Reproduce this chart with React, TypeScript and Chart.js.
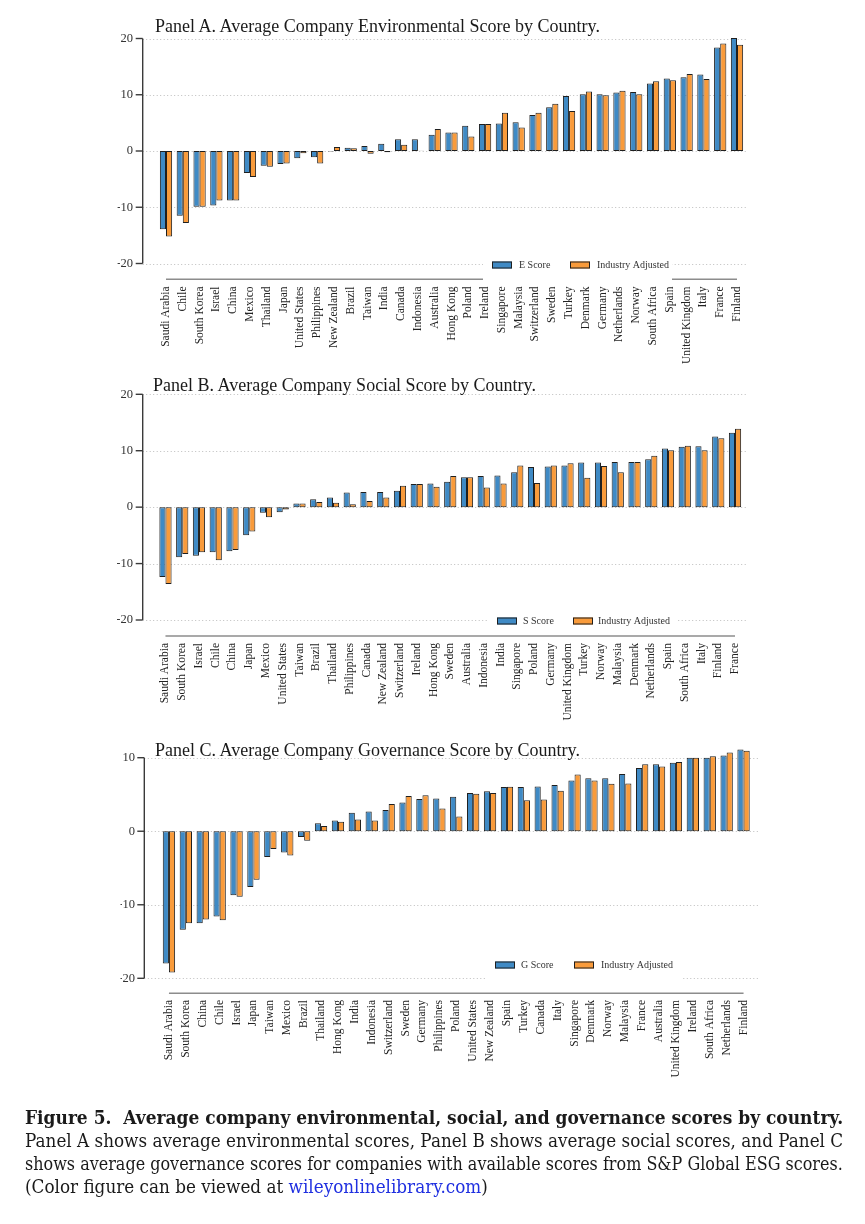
import React, { useEffect, useLayoutEffect, useRef } from 'react';
import { Chart, registerables } from 'chart.js';

Chart.register(...registerables);

const FONT = "'Liberation Serif', 'Times New Roman', serif";
const CAP_FONT = "'DejaVu Serif', 'Liberation Serif', serif";
const BLUE = '#3f8ac5';
const ORANGE = '#f99b3b';
const EDGE = '#1f1f1f';

// ---------- Panel A: Environmental ----------
const countriesE = [
  'Saudi Arabia', 'Chile', 'South Korea', 'Israel', 'China', 'Mexico', 'Thailand', 'Japan',
  'United States', 'Philippines', 'New Zealand', 'Brazil', 'Taiwan', 'India', 'Canada',
  'Indonesia', 'Australia', 'Hong Kong', 'Poland', 'Ireland', 'Singapore', 'Malaysia',
  'Switzerland', 'Sweden', 'Turkey', 'Denmark', 'Germany', 'Netherlands', 'Norway',
  'South Africa', 'Spain', 'United Kingdom', 'Italy', 'France', 'Finland',
];
const eScore = [
  -13.9, -11.5, -9.9, -9.7, -8.8, -3.9, -2.6, -2.3, -1.3, -1.1, -0.1, 0.6, 0.9, 1.3, 2.1,
  2.1, 2.9, 3.3, 4.5, 4.8, 4.9, 5.1, 6.4, 7.8, 9.8, 10.1, 10.1, 10.4, 10.5, 12.0, 12.9,
  13.1, 13.6, 18.4, 20.1,
];
const eAdjusted = [
  -15.2, -12.8, -9.9, -8.8, -8.8, -4.6, -2.8, -2.2, -0.4, -2.2, 0.7, 0.5, -0.5, -0.2, 1.1,
  0.05, 3.9, 3.3, 2.6, 4.8, 6.8, 4.2, 6.8, 8.4, 7.1, 10.6, 9.9, 10.7, 10.1, 12.4, 12.6,
  13.7, 12.8, 19.1, 18.9,
];

// ---------- Panel B: Social ----------
const countriesS = [
  'Saudi Arabia', 'South Korea', 'Israel', 'Chile', 'China', 'Japan', 'Mexico',
  'United States', 'Taiwan', 'Brazil', 'Thailand', 'Philippines', 'Canada', 'New Zealand',
  'Switzerland', 'Ireland', 'Hong Kong', 'Sweden', 'Australia', 'Indonesia', 'India',
  'Singapore', 'Poland', 'Germany', 'United Kingdom', 'Turkey', 'Norway', 'Malaysia',
  'Denmark', 'Netherlands', 'Spain', 'South Africa', 'Italy', 'Finland', 'France',
];
const sScore = [
  -12.4, -8.9, -8.6, -8.0, -7.8, -5.0, -1.0, -0.9, 0.65, 1.4, 1.7, 2.6, 2.7, 2.7, 2.9,
  4.1, 4.2, 4.5, 5.3, 5.5, 5.6, 6.2, 7.1, 7.2, 7.4, 7.9, 7.9, 8.0, 8.0, 8.5, 10.4, 10.7,
  10.8, 12.5, 13.2,
];
const sAdjusted = [
  -13.6, -8.3, -8.0, -9.4, -7.6, -4.3, -1.8, -0.4, 0.65, 0.9, 0.8, 0.5, 1.1, 1.7, 3.8,
  4.1, 3.6, 5.5, 5.3, 3.5, 4.2, 7.4, 4.3, 7.4, 7.8, 5.2, 7.3, 6.2, 8.0, 9.1, 10.1, 10.9,
  10.1, 12.2, 13.9,
];

// ---------- Panel C: Governance ----------
const countriesG = [
  'Saudi Arabia', 'South Korea', 'China', 'Chile', 'Israel', 'Japan', 'Taiwan', 'Mexico',
  'Brazil', 'Thailand', 'Hong Kong', 'India', 'Indonesia', 'Switzerland', 'Sweden',
  'Germany', 'Philippines', 'Poland', 'United States', 'New Zealand', 'Spain', 'Turkey',
  'Canada', 'Italy', 'Singapore', 'Denmark', 'Norway', 'Malaysia', 'France', 'Australia',
  'United Kingdom', 'Ireland', 'South Africa', 'Netherlands', 'Finland',
];
const gScore = [
  -18.0, -13.4, -12.5, -11.6, -8.7, -7.6, -3.5, -2.9, -0.8, 1.1, 1.45, 2.5, 2.7, 2.9, 3.9,
  4.4, 4.45, 4.7, 5.2, 5.45, 6.0, 6.0, 6.1, 6.3, 6.9, 7.2, 7.2, 7.8, 8.6, 9.1, 9.3, 10.0,
  10.0, 10.3, 11.1,
];
const gAdjusted = [
  -19.2, -12.5, -12.0, -12.1, -8.9, -6.6, -2.4, -3.3, -1.3, 0.7, 1.3, 1.6, 1.45, 3.7, 4.8,
  4.9, 3.1, 2.0, 5.1, 5.2, 6.05, 4.2, 4.3, 5.5, 7.7, 6.9, 6.45, 6.5, 9.1, 8.8, 9.4, 10.0,
  10.2, 10.7, 10.95,
];

const yTicksAB = [-20, -10, 0, 10, 20];
const yTicksC = [-20, -10, 0, 10];

const titleA = 'Panel A. Average Company Environmental Score by Country.';
const titleB = 'Panel B. Average Company Social Score by Country.';
const titleC = 'Panel C. Average Company Governance Score by Country.';
const adjName = 'Industry Adjusted';

interface LegendCfg {
  cy: number;
  h: number;
  boxL: number;
  boxR: number;
  blueX: number;
  blueTx: number;
  orangeX: number;
  orangeTx: number;
}

interface PanelCfg {
  title: string;
  titleX: number;
  titleBaseline: number;
  top: number;
  height: number;
  labels: string[];
  score: number[];
  adj: number[];
  scoreName: string;
  yTicks: number[];
  yMax: number;
  tickTopPx: number;
  tickBotPx: number;
  areaLeft: number;
  areaRight: number;
  axisX: number;
  gridRight: number;
  tickLabelRight: number;
  xAxisY: number;
  labelTop: number;
  legend: LegendCfg;
}

const PAGE_W = 865;
const Y_W = 40;

const panels: PanelCfg[] = [
  {
    title: titleA, titleX: 155, titleBaseline: 31.5,
    top: 0, height: 376,
    labels: countriesE, score: eScore, adj: eAdjusted, scoreName: 'E Score',
    yTicks: yTicksAB, yMax: 20.5, tickTopPx: 38.5, tickBotPx: 263.5,
    areaLeft: 157.6, areaRight: 745.4, axisX: 142.7, gridRight: 746, tickLabelRight: 133,
    xAxisY: 279.3, labelTop: 286.5,
    legend: { cy: 265, h: 31, boxL: 483, boxR: 672, blueX: 492, blueTx: 519, orangeX: 570, orangeTx: 597 },
  },
  {
    title: titleB, titleX: 153, titleBaseline: 390.7,
    top: 360, height: 376,
    labels: countriesS, score: sScore, adj: sAdjusted, scoreName: 'S Score',
    yTicks: yTicksAB, yMax: 20, tickTopPx: 394.3, tickBotPx: 620,
    areaLeft: 157.1, areaRight: 743.4, axisX: 142.7, gridRight: 748, tickLabelRight: 133,
    xAxisY: 636, labelTop: 643,
    legend: { cy: 621, h: 28, boxL: 488, boxR: 676, blueX: 497, blueTx: 523, orangeX: 573, orangeTx: 598 },
  },
  {
    title: titleC, titleX: 155, titleBaseline: 755.7,
    top: 720, height: 385,
    labels: countriesG, score: gScore, adj: gAdjusted, scoreName: 'G Score',
    yTicks: yTicksC, yMax: 11.6, tickTopPx: 757.7, tickBotPx: 978.3,
    areaLeft: 160.5, areaRight: 752, axisX: 144.3, gridRight: 758, tickLabelRight: 135,
    xAxisY: 993.3, labelTop: 1000,
    legend: { cy: 965, h: 31, boxL: 485, boxR: 683, blueX: 495, blueTx: 521, orangeX: 574, orangeTx: 601 },
  },
];

function Panel({ cfg }: { cfg: PanelCfg }) {
  const canvasRef = useRef<HTMLCanvasElement | null>(null);

  useEffect(() => {
    const canvas = canvasRef.current;
    if (!canvas) return;
    const minTick = Math.min(...cfg.yTicks);
    const maxTick = Math.max(...cfg.yTicks);
    const ppu = (cfg.tickBotPx - cfg.tickTopPx) / (maxTick - minTick);
    const areaTop = cfg.tickTopPx - (cfg.yMax - maxTick) * ppu - cfg.top;
    const areaBottom = cfg.tickBotPx - cfg.top;
    const xAxisH = cfg.height - areaBottom;

    const decor = {
      id: 'decor',
      beforeDatasetsDraw(chart: any) {
        const ctx = chart.ctx as CanvasRenderingContext2D;
        const ys = chart.scales.y;
        const xs = chart.scales.x;
        ctx.save();
        // dotted grid lines
        ctx.strokeStyle = '#bdbdbd';
        ctx.lineWidth = 1;
        ctx.setLineDash([1, 2.5]);
        for (const v of cfg.yTicks) {
          const py = Math.round(ys.getPixelForValue(v)) + 0.5;
          ctx.beginPath();
          ctx.moveTo(cfg.axisX, py);
          ctx.lineTo(cfg.gridRight, py);
          ctx.stroke();
        }
        ctx.setLineDash([]);
        // y axis line and ticks
        ctx.strokeStyle = '#3a3a3a';
        ctx.lineWidth = 1.4;
        ctx.beginPath();
        ctx.moveTo(cfg.axisX, ys.getPixelForValue(maxTick));
        ctx.lineTo(cfg.axisX, ys.getPixelForValue(minTick));
        ctx.stroke();
        for (const v of cfg.yTicks) {
          const py = ys.getPixelForValue(v);
          ctx.beginPath();
          ctx.moveTo(cfg.axisX - 7, py);
          ctx.lineTo(cfg.axisX, py);
          ctx.stroke();
        }
        // x axis line (between first and last category)
        ctx.strokeStyle = '#8c8c8c';
        ctx.lineWidth = 1.6;
        const ly = cfg.xAxisY - cfg.top;
        ctx.beginPath();
        ctx.moveTo(xs.getPixelForValue(0), ly);
        ctx.lineTo(xs.getPixelForValue(cfg.labels.length - 1), ly);
        ctx.stroke();
        ctx.restore();
      },
      afterDatasetsDraw(chart: any) {
        const ctx = chart.ctx as CanvasRenderingContext2D;
        const L = cfg.legend;
        const cy = L.cy - cfg.top;
        ctx.save();
        ctx.fillStyle = '#ffffff';
        ctx.fillRect(L.boxL, cy - L.h / 2, L.boxR - L.boxL, L.h);
        const bw = 20;
        const bh = 7;
        const items = [
          { x: L.blueX, tx: L.blueTx, color: BLUE, name: cfg.scoreName },
          { x: L.orangeX, tx: L.orangeTx, color: ORANGE, name: adjName },
        ];
        ctx.font = `10px ${FONT}`;
        ctx.textBaseline = 'middle';
        ctx.textAlign = 'left';
        for (const it of items) {
          ctx.fillStyle = it.color;
          ctx.fillRect(it.x, cy - bh / 2, bw, bh);
          ctx.strokeStyle = EDGE;
          ctx.lineWidth = 1;
          ctx.strokeRect(it.x + 0.5, cy - bh / 2 + 0.5, bw - 1, bh - 1);
          ctx.fillStyle = '#333333';
          ctx.fillText(it.name, it.tx, cy + 0.5);
        }
        ctx.restore();
      },
    };

    const chart = new Chart(canvas, {
      type: 'bar',
      data: {
        labels: cfg.labels,
        datasets: [
          {
            label: cfg.scoreName,
            data: cfg.score,
            backgroundColor: BLUE,
            borderColor: EDGE,
            borderWidth: 1,
            borderSkipped: false,
            categoryPercentage: 0.73,
            barPercentage: 1,
          },
          {
            label: adjName,
            data: cfg.adj,
            backgroundColor: ORANGE,
            borderColor: EDGE,
            borderWidth: 1,
            borderSkipped: false,
            categoryPercentage: 0.73,
            barPercentage: 1,
          },
        ],
      },
      options: {
        responsive: true,
        maintainAspectRatio: false,
        animation: false,
        devicePixelRatio: 1,
        layout: {
          padding: {
            top: areaTop,
            left: cfg.areaLeft - Y_W,
            right: PAGE_W - cfg.areaRight,
            bottom: 0,
          },
        },
        plugins: {
          legend: { display: false },
          tooltip: { enabled: false },
          title: { display: false },
        },
        scales: {
          x: {
            type: 'category',
            offset: true,
            grid: { display: false, drawTicks: false },
            border: { display: false },
            ticks: {
              autoSkip: false,
              maxRotation: 90,
              minRotation: 90,
              padding: cfg.labelTop - cfg.tickBotPx,
              color: '#222222',
              font: { family: FONT, size: 11.5 },
            },
            afterFit: (s: any) => {
              s.height = xAxisH;
              s.paddingLeft = 0;
              s.paddingRight = 0;
            },
          },
          y: {
            type: 'linear',
            min: minTick,
            max: cfg.yMax,
            grid: { display: false, drawTicks: false },
            border: { display: false },
            ticks: {
              padding: cfg.areaLeft - cfg.tickLabelRight,
              color: '#333333',
              font: { family: FONT, size: 12.5 },
            },
            afterBuildTicks: (s: any) => {
              s.ticks = cfg.yTicks.map((v) => ({ value: v }));
            },
            afterFit: (s: any) => {
              s.width = Y_W;
              s.paddingTop = 0;
              s.paddingBottom = 0;
            },
          },
        },
      },
      plugins: [decor],
    } as any);

    return () => {
      chart.destroy();
    };
  }, [cfg]);

  return (
    <>
      <div
        style={{
          position: 'absolute',
          left: 0,
          top: cfg.top,
          width: PAGE_W,
          height: cfg.height,
        }}
      >
        <canvas ref={canvasRef} />
      </div>
      <div
        style={{
          position: 'absolute',
          left: cfg.titleX,
          top: cfg.titleBaseline - 16,
          fontFamily: FONT,
          fontSize: 18,
          lineHeight: '20px',
          color: '#1a1a1a',
          whiteSpace: 'nowrap',
        }}
      >
        {cfg.title}
      </div>
    </>
  );
}

const captionBold = 'Figure 5.\u00a0 Average company environmental, social, and governance scores by country.';
const captionLine2 = 'Panel A shows average environmental scores, Panel B shows average social scores, and Panel C';
const captionLine3 = 'shows average governance scores for companies with available scores from S&P Global ESG scores.';
const captionLine4a = '(Color figure can be viewed at ';
const captionLink = 'wileyonlinelibrary.com';
const captionLine4b = ')';

function Caption() {
  const refs = useRef<(HTMLSpanElement | null)[]>([]);
  const target = 818;

  useLayoutEffect(() => {
    const els = refs.current;
    const widths = els.map((e) => (e ? e.offsetWidth : 0));
    const scales = widths.map((w) => (w > 0 ? target / w : 1));
    els.forEach((e, i) => {
      if (!e) return;
      const s = i === 3 ? scales[1] : scales[i];
      e.style.transform = `scaleX(${s})`;
    });
  }, []);

  const lineStyle: React.CSSProperties = {
    display: 'inline-block',
    whiteSpace: 'nowrap',
    transformOrigin: '0 0',
  };

  return (
    <div
      style={{
        position: 'absolute',
        left: 25,
        top: 1106,
        width: 840,
        fontFamily: CAP_FONT,
        fontSize: 18,
        lineHeight: '23px',
        color: '#1a1a1a',
      }}
    >
      <div style={{ height: 23 }}>
        <span ref={(el) => { refs.current[0] = el; }} style={{ ...lineStyle, fontWeight: 'bold' }}>
          {captionBold}
        </span>
      </div>
      <div style={{ height: 23 }}>
        <span ref={(el) => { refs.current[1] = el; }} style={lineStyle}>
          {captionLine2}
        </span>
      </div>
      <div style={{ height: 23 }}>
        <span ref={(el) => { refs.current[2] = el; }} style={lineStyle}>
          {captionLine3}
        </span>
      </div>
      <div style={{ height: 23 }}>
        <span ref={(el) => { refs.current[3] = el; }} style={lineStyle}>
          {captionLine4a}
          <span style={{ color: '#1f2fe0' }}>{captionLink}</span>
          {captionLine4b}
        </span>
      </div>
    </div>
  );
}

export default function App() {
  return (
    <div
      style={{
        position: 'absolute',
        left: 0,
        top: 0,
        width: PAGE_W,
        height: 1224,
        background: '#ffffff',
        overflow: 'hidden',
      }}
    >
      {panels.map((p) => (
        <Panel key={p.title} cfg={p} />
      ))}
      <Caption />
    </div>
  );
}
